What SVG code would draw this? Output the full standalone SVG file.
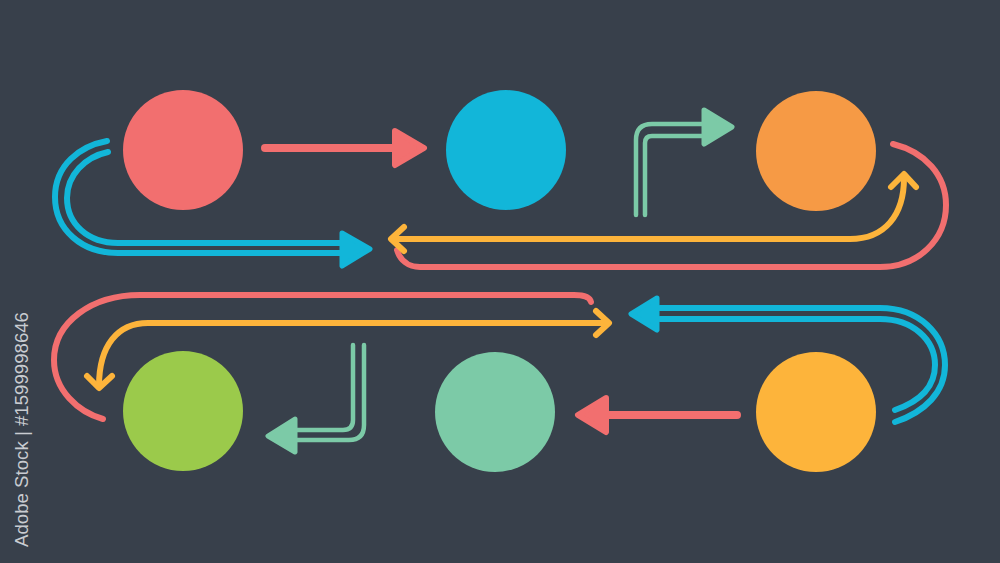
<svg xmlns="http://www.w3.org/2000/svg" width="1000" height="563" viewBox="0 0 1000 563">
<style>
.ln{fill:none;stroke-linecap:round;stroke-linejoin:round}
.hd{stroke-linejoin:round}
.red{stroke:#f26f6f}
.blu{stroke:#12b6d9}
.yel{stroke:#fdb43b}
.tea{stroke:#7ccaa7}
.w8{stroke-width:8}
.w6{stroke-width:6}
.w45{stroke-width:4.5}
.lbl{font-family:"Liberation Sans",Arial,sans-serif;font-size:18px;fill:#c9ccd1}
</style>
<rect width="1000" height="563" fill="#38404b"/>
<g id="connectors">
  <!-- top red straight arrow -->
  <path class="ln red w8" d="M265,148 L396,148"/>
  <polygon class="hd red" stroke-width="6" fill="#f26f6f" points="395,131 424,148 395,165"/>
  <!-- top-left blue double arrow -->
  <path class="ln blu w6" d="M107,141 C80,146 55,165 55,197 C55,230 82,253 118,253 L345,253"/>
  <path class="ln blu w6" d="M108,152 C85,157 67,175 67,198 C67,224 88,243 118,243 L345,243"/>
  <polygon class="hd blu" stroke-width="5" fill="#12b6d9" points="342,233 370,249 342,266"/>
  <!-- top red big loop -->
  <path class="ln red w6" d="M893,144 C925,152 946,175 946,205 C946,240 918,267 880,267 L420,267 C408,267 400,260 397,250"/>
  <!-- top yellow arrow -->
  <path class="ln yel w6" d="M392,239 L850,239 C885,239 904,215 904,178"/>
  <polyline class="ln yel w6" points="404,227 391,239 404,251"/>
  <polyline class="ln yel w6" points="891,187 904,174 916,187"/>
  <!-- top teal bent arrow -->
  <path class="ln tea w45" d="M636,215 L636,140 Q636,124 652,124 L705,124"/>
  <path class="ln tea w45" d="M645,215 L645,143 Q645,136 652,136 L705,136"/>
  <polygon class="hd tea" stroke-width="5" fill="#7ccaa7" points="704,110 732,127 704,144"/>
  <!-- bottom red big loop -->
  <path class="ln red w6" d="M591,302 C590,297 584,295 574,295 L140,295 C92,295 54,322 54,360 C54,390 78,412 103,419"/>
  <!-- bottom yellow arrow -->
  <path class="ln yel w6" d="M607,323 L148,323 C118,323 99,345 99,386"/>
  <polyline class="ln yel w6" points="596,311 609,323 596,335"/>
  <polyline class="ln yel w6" points="87,376 99,388 112,376"/>
  <!-- bottom-right blue double arrow -->
  <path class="ln blu w6" d="M660,308 L880,308 C920,308 945,335 945,365 C945,392 925,412 895,422"/>
  <path class="ln blu w6" d="M660,319 L880,319 C913,319 935,340 935,365 C935,388 918,402 895,410"/>
  <polygon class="hd blu" stroke-width="5" fill="#12b6d9" points="657,298 631,314 657,330"/>
  <!-- bottom red straight arrow -->
  <path class="ln red w8" d="M737,415 L606,415"/>
  <polygon class="hd red" stroke-width="6" fill="#f26f6f" points="606,398 578,415 606,432"/>
  <!-- bottom teal bent arrow -->
  <path class="ln tea w45" d="M353,345 L353,420 Q353,430 343,430 L297,430"/>
  <path class="ln tea w45" d="M364,345 L364,425 Q364,440 349,440 L297,440"/>
  <polygon class="hd tea" stroke-width="5" fill="#7ccaa7" points="295,419 268,436 295,452"/>
</g>
<g id="node-red"><circle cx="183" cy="150" r="60" fill="#f26f6f"/></g>
<g id="node-blue"><circle cx="506" cy="150" r="60" fill="#12b6d9"/></g>
<g id="node-orange"><circle cx="816" cy="151" r="60" fill="#f69a45"/></g>
<g id="node-green"><circle cx="183" cy="411" r="60" fill="#9bca4b"/></g>
<g id="node-teal"><circle cx="495" cy="412" r="60" fill="#7ccaa7"/></g>
<g id="node-yellow"><circle cx="816" cy="412" r="60" fill="#fdb43b"/></g>
<text class="lbl" transform="translate(28,547) rotate(-90)" textLength="235" lengthAdjust="spacingAndGlyphs">Adobe Stock | #1599998646</text>
</svg>
